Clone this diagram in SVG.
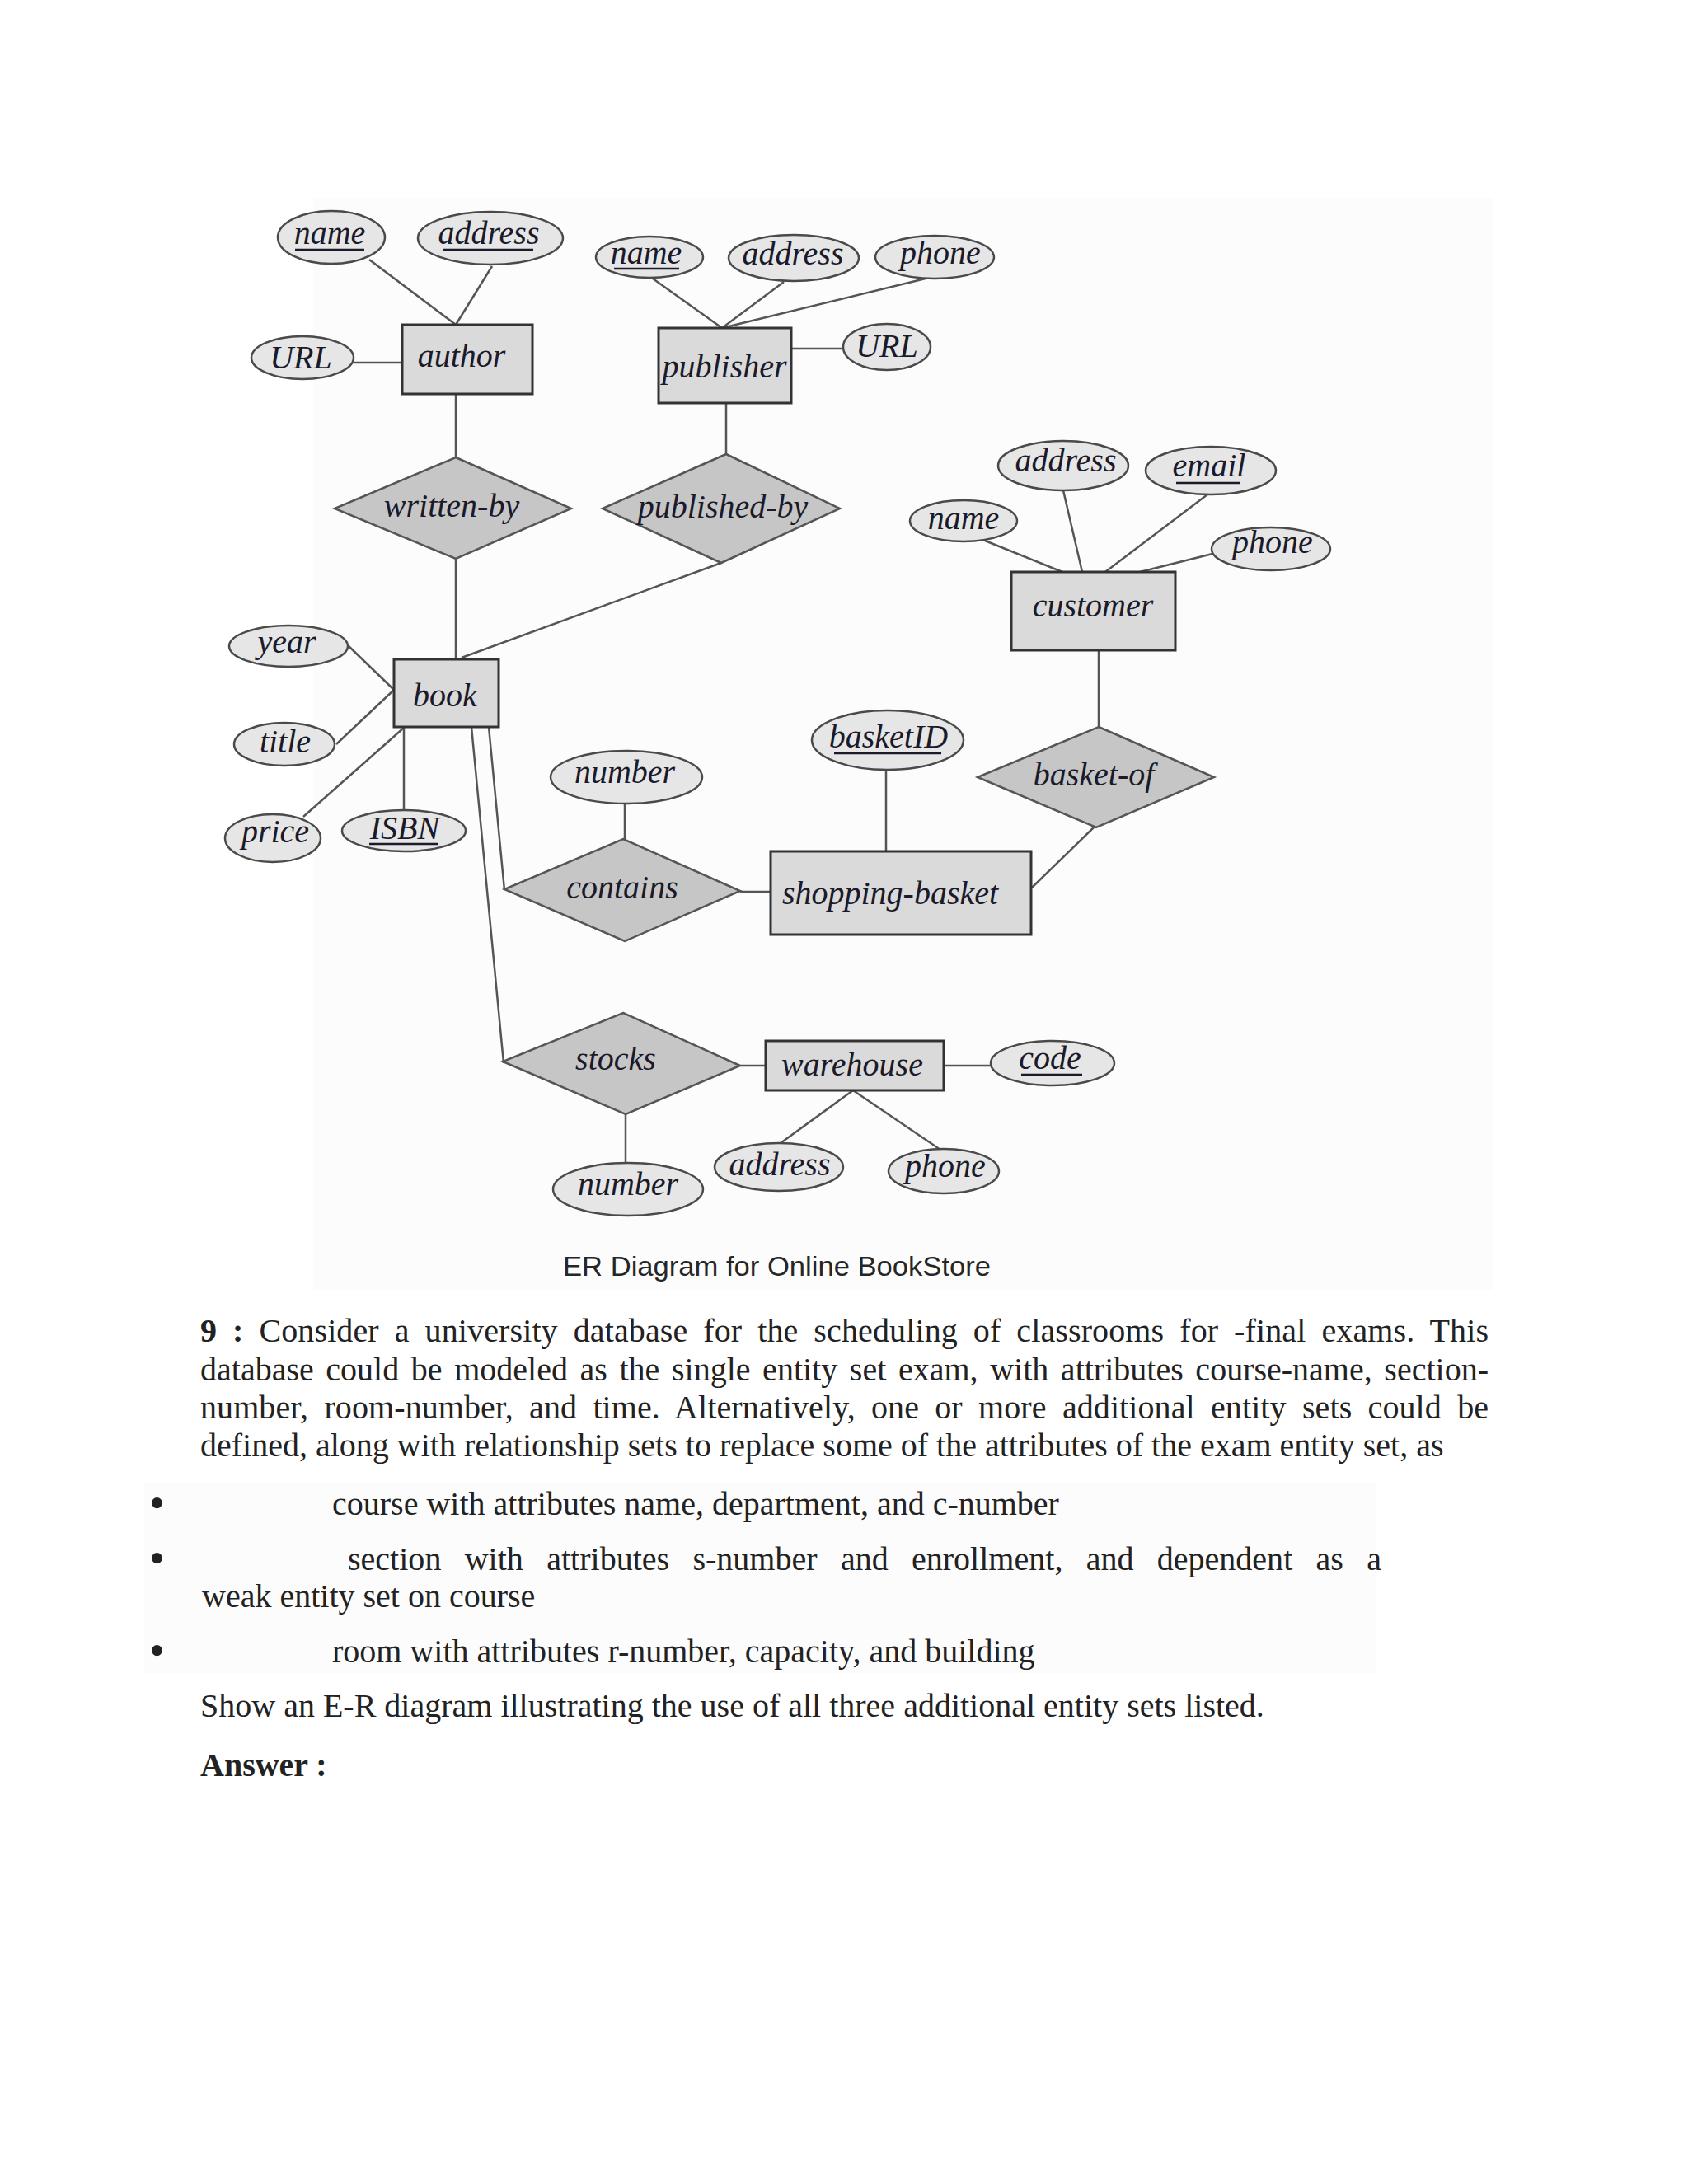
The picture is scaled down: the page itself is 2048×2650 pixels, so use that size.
<svg xmlns="http://www.w3.org/2000/svg" width="2048" height="2650" viewBox="0 0 2048 2650">
<style>
.attr{fill:#e6e6e6;stroke:#4a4a4a;stroke-width:2.5}
.ent{fill:#dadada;stroke:#333;stroke-width:3}
.rel{fill:#c6c6c6;stroke:#555;stroke-width:2.5}
.lbl{font-family:"Liberation Serif",serif;font-style:italic;font-size:40px;fill:#1a1a2a;text-anchor:middle}
.ul{stroke:#1a1a2a;stroke-width:2.5}
.conn line{stroke:#555;stroke-width:2.5}
.body{font-family:"Liberation Serif","Times New Roman",serif;font-size:40px;fill:#222}
.bul{font-family:"Liberation Serif","Times New Roman",serif;font-size:54px;fill:#222}
.cap{font-family:"Liberation Sans",Arial,sans-serif;font-size:33px;fill:#262626}
</style>
<rect width="2048" height="2650" fill="#ffffff"/>
<rect x="380" y="240" width="1432" height="1325" fill="#fcfcfc"/>
<rect x="175" y="1800" width="1495" height="230" fill="#fcfcfc"/>

<g id="connectors" class="conn">
<line x1="448" y1="315" x2="553" y2="394"/>
<line x1="597" y1="323" x2="553" y2="394"/>
<line x1="429" y1="440" x2="488" y2="440"/>
<line x1="553" y1="478" x2="553" y2="555"/>
<line x1="553" y1="678" x2="553" y2="800"/>
<line x1="792" y1="338" x2="876" y2="398"/>
<line x1="951" y1="342" x2="876" y2="398"/>
<line x1="1123" y1="338" x2="876" y2="398"/>
<line x1="961" y1="423" x2="1023" y2="423"/>
<line x1="881" y1="489" x2="881" y2="551"/>
<line x1="875" y1="683" x2="560" y2="798"/>
<line x1="1195" y1="656" x2="1289" y2="694"/>
<line x1="1290" y1="595" x2="1313" y2="694"/>
<line x1="1465" y1="600" x2="1341" y2="694"/>
<line x1="1471" y1="672" x2="1383" y2="694"/>
<line x1="1333" y1="789" x2="1333" y2="882"/>
<line x1="1252" y1="1077" x2="1328" y2="1003"/>
<line x1="422" y1="783" x2="478" y2="837"/>
<line x1="408" y1="903" x2="478" y2="837"/>
<line x1="368" y1="991" x2="490" y2="883"/>
<line x1="490" y1="883" x2="490" y2="983"/>
<line x1="572" y1="882" x2="611" y2="1290"/>
<line x1="593" y1="882" x2="612" y2="1080"/>
<line x1="758" y1="975" x2="758" y2="1018"/>
<line x1="898" y1="1082" x2="935" y2="1082"/>
<line x1="1075" y1="934" x2="1075" y2="1033"/>
<line x1="898" y1="1293" x2="929" y2="1293"/>
<line x1="1145" y1="1293" x2="1202" y2="1293"/>
<line x1="759" y1="1352" x2="759" y2="1411"/>
<line x1="1035" y1="1323" x2="947" y2="1387"/>
<line x1="1035" y1="1323" x2="1141" y2="1395"/>
</g>

<g id="author">
<rect class="ent" x="488" y="394" width="158" height="84"/>
<text class="lbl" x="560" y="445">author</text>
</g>
<g id="author-name">
<ellipse class="attr" cx="402" cy="288" rx="65" ry="32"/>
<text class="lbl" x="400" y="296">name</text>
<line class="ul" x1="358" y1="303" x2="442" y2="303"/>
</g>
<g id="author-address">
<ellipse class="attr" cx="595" cy="289" rx="88" ry="32"/>
<text class="lbl" x="593" y="296">address</text>
<line class="ul" x1="537" y1="303" x2="647" y2="303"/>
</g>
<g id="author-url">
<ellipse class="attr" cx="367" cy="434" rx="62" ry="26"/>
<text class="lbl" x="365" y="447">URL</text>
</g>
<g id="written-by">
<polygon class="rel" points="553,555 693,617 553,678 406,617"/>
<text class="lbl" x="548" y="627">written-by</text>
</g>

<g id="publisher">
<rect class="ent" x="799" y="398" width="161" height="91"/>
<text class="lbl" x="879" y="458">publisher</text>
</g>
<g id="publisher-name">
<ellipse class="attr" cx="788" cy="312" rx="65" ry="25"/>
<text class="lbl" x="784" y="320">name</text>
<line class="ul" x1="745" y1="326" x2="824" y2="326"/>
</g>
<g id="publisher-address">
<ellipse class="attr" cx="963" cy="313" rx="79" ry="28"/>
<text class="lbl" x="962" y="321">address</text>
</g>
<g id="publisher-phone">
<ellipse class="attr" cx="1134" cy="312" rx="72" ry="26"/>
<text class="lbl" x="1141" y="320">phone</text>
</g>
<g id="publisher-url">
<ellipse class="attr" cx="1076" cy="421" rx="53" ry="28"/>
<text class="lbl" x="1076" y="433">URL</text>
</g>
<g id="published-by">
<polygon class="rel" points="881,551 1019,617 875,683 731,617"/>
<text class="lbl" x="877" y="628">published-by</text>
</g>

<g id="customer">
<rect class="ent" x="1227" y="694" width="199" height="95"/>
<text class="lbl" x="1326" y="748">customer</text>
</g>
<g id="customer-address">
<ellipse class="attr" cx="1290" cy="565" rx="79" ry="30"/>
<text class="lbl" x="1293" y="572">address</text>
</g>
<g id="customer-email">
<ellipse class="attr" cx="1469" cy="571" rx="79" ry="29"/>
<text class="lbl" x="1467" y="578">email</text>
<line class="ul" x1="1427" y1="586" x2="1505" y2="586"/>
</g>
<g id="customer-name">
<ellipse class="attr" cx="1169" cy="632" rx="65" ry="25"/>
<text class="lbl" x="1169" y="642">name</text>
</g>
<g id="customer-phone">
<ellipse class="attr" cx="1542" cy="666" rx="72" ry="26"/>
<text class="lbl" x="1544" y="671">phone</text>
</g>
<g id="basket-of">
<polygon class="rel" points="1333,882 1473,943 1330,1004 1186,943"/>
<text class="lbl" x="1327" y="953">basket-of</text>
</g>

<g id="book">
<rect class="ent" x="478" y="800" width="127" height="82"/>
<text class="lbl" x="540" y="857">book</text>
</g>
<g id="book-year">
<ellipse class="attr" cx="350" cy="784" rx="72" ry="25"/>
<text class="lbl" x="348" y="792">year</text>
</g>
<g id="book-title">
<ellipse class="attr" cx="345" cy="903" rx="61" ry="26"/>
<text class="lbl" x="346" y="913">title</text>
</g>
<g id="book-price">
<ellipse class="attr" cx="331" cy="1017" rx="58" ry="29"/>
<text class="lbl" x="334" y="1022">price</text>
</g>
<g id="book-isbn">
<ellipse class="attr" cx="490" cy="1008" rx="75" ry="25"/>
<text class="lbl" x="491" y="1018">ISBN</text>
<line class="ul" x1="448" y1="1024" x2="532" y2="1024"/>
</g>

<g id="contains">
<polygon class="rel" points="756,1018 898,1081 758,1142 612,1079"/>
<text class="lbl" x="755" y="1090">contains</text>
</g>
<g id="contains-number">
<ellipse class="attr" cx="760" cy="943" rx="92" ry="32"/>
<text class="lbl" x="758" y="950">number</text>
</g>
<g id="shopping-basket">
<rect class="ent" x="935" y="1033" width="316" height="101"/>
<text class="lbl" x="1080" y="1097">shopping-basket</text>
</g>
<g id="basketid">
<ellipse class="attr" cx="1077" cy="898" rx="92" ry="36"/>
<text class="lbl" x="1078" y="907">basketID</text>
<line class="ul" x1="1012" y1="914" x2="1142" y2="914"/>
</g>

<g id="stocks">
<polygon class="rel" points="756,1229 898,1293 759,1352 610,1288"/>
<text class="lbl" x="747" y="1298">stocks</text>
</g>
<g id="warehouse">
<rect class="ent" x="929" y="1263" width="216" height="60"/>
<text class="lbl" x="1034" y="1305">warehouse</text>
</g>
<g id="warehouse-code">
<ellipse class="attr" cx="1277" cy="1290" rx="75" ry="27"/>
<text class="lbl" x="1274" y="1297">code</text>
<line class="ul" x1="1239" y1="1304" x2="1313" y2="1304"/>
</g>
<g id="stocks-number">
<ellipse class="attr" cx="762" cy="1443" rx="91" ry="32"/>
<text class="lbl" x="762" y="1450">number</text>
</g>
<g id="warehouse-address">
<ellipse class="attr" cx="945" cy="1416" rx="78" ry="29"/>
<text class="lbl" x="946" y="1426">address</text>
</g>
<g id="warehouse-phone">
<ellipse class="attr" cx="1145" cy="1421" rx="67" ry="27"/>
<text class="lbl" x="1147" y="1428">phone</text>
</g>

<g id="caption">
<text class="cap" x="683" y="1548" textLength="519" lengthAdjust="spacingAndGlyphs">ER Diagram for Online BookStore</text>
</g>

<g id="question-text">
<text class="body" x="243" y="1628" word-spacing="8.8" textLength="1563" lengthAdjust="spacing"><tspan font-weight="bold">9 :</tspan> Consider a university database for the scheduling of classrooms for -final exams. This</text>
<text class="body" x="243" y="1675" word-spacing="4.6" textLength="1563" lengthAdjust="spacing">database could be modeled as the single entity set exam, with attributes course-name, section-</text>
<text class="body" x="243" y="1721" word-spacing="9.2" textLength="1563" lengthAdjust="spacing">number, room-number, and time. Alternatively, one or more additional entity sets could be</text>
<text class="body" x="243" y="1767">defined, along with relationship sets to replace some of the attributes of the exam entity set, as</text>
<text class="bul" x="181" y="1842">•</text>
<text class="body" x="403" y="1838">course with attributes name, department, and c-number</text>
<text class="bul" x="181" y="1909">•</text>
<text class="body" x="422" y="1905" word-spacing="18.3" textLength="1254" lengthAdjust="spacing">section with attributes s-number and enrollment, and dependent as a</text>
<text class="body" x="245" y="1950">weak entity set on course</text>
<text class="bul" x="181" y="2021">•</text>
<text class="body" x="403" y="2017">room with attributes r-number, capacity, and building</text>
<text class="body" x="243" y="2083">Show an E-R diagram illustrating the use of all three additional entity sets listed.</text>
<text class="body" x="243" y="2155" font-weight="bold">Answer :</text>
</g>
</svg>
